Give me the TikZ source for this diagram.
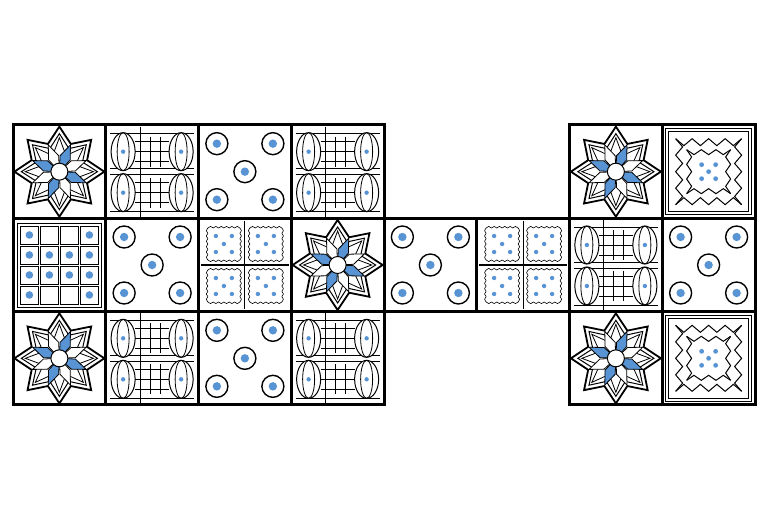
\documentclass[tikz,border=0pt]{standalone}
\usetikzlibrary{decorations.pathmorphing}
\definecolor{ublue}{RGB}{88,148,212}
\tikzset{
 cellbox/.style={line width=3pt},
 pics/rosette/.style={code={
  \draw[line width=1.8pt,fill=white] (90:45) \foreach \k in {1,...,15}{ -- ({90+22.5*\k}:{ifthenelse(mod(\k,2)==0,45,30)}) } -- cycle;
  \draw[line width=1pt] (90:38) \foreach \k in {1,...,15}{ -- ({90+22.5*\k}:{ifthenelse(mod(\k,2)==0,38,25)}) } -- cycle;
  \foreach \k in {0,...,7}{\draw[line width=0.8pt,fill=white] (0,0) -- ({90+45*\k-16}:20) -- ({90+45*\k}:34) -- ({90+45*\k+16}:20) -- cycle;}
  \foreach \k in {0,...,7}{\pgfmathsetmacro\fc{ifthenelse(mod(\k,2)==0,1,0)}
   \ifdim\fc pt>0.5pt \def\pc{ublue}\else\def\pc{white}\fi
   \draw[line width=0.8pt,fill=\pc] (0,0) -- ({112.5+45*\k-20}:16) -- ({112.5+45*\k}:29) -- ({112.5+45*\k+20}:16) -- cycle;}
  \draw[line width=1pt,fill=white] (0,0) circle (8.5);
 }},
 pics/eyes/.style={code={
  \draw[line width=0.9pt] (-42,-38) -- (42,-38) (-42,-3) -- (42,-3) (-42,3) -- (42,3) (-42,40) -- (42,40) (-12,-45) -- (-12,45);
  \foreach \dy in {-20,21}{
   \foreach \dx in {-29,29}{
    \draw[line width=1pt,fill=white] (\dx,\dy) ellipse (12 and 19);
    \draw[line width=0.8pt] (\dx,\dy) ellipse (6 and 19);
    \fill[ublue] (\dx,\dy) circle (2.2);}
   \draw[line width=0.8pt] (-17,\dy-10) -- (17,\dy-10) (-17,\dy) -- (17,\dy) (-17,\dy+10) -- (17,\dy+10)
     (-2,\dy-15) -- (-2,\dy+15) (8,\dy-15) -- (8,\dy+15);}
 }},
 pics/five/.style={code={
  \foreach \p in {(-28,-28),(28,-28),(0,0),(-28,28),(28,28)}{
   \draw[line width=1.4pt] \p circle (11); \fill[ublue] \p circle (4.2);}
 }},
 pics/four/.style={code={
  \draw[line width=1.1pt] (-44,0) -- (44,0) (0,-44) -- (0,44);
  \foreach \cx/\cy in {-21/-21,21/-21,-21/21,21/21}{
   \foreach \s in {0,90,180,270}{
    \begin{scope}[shift={(\cx,\cy)},rotate=\s]
    \draw[line width=0.6pt,line join=round] (-16,-16) \foreach \k in {1,...,12}{ -- ({-16+32*\k/12},{-16-ifthenelse(mod(\k,2)==1,1.6,0)}) };
    \end{scope}}
   \foreach \ddx/\ddy in {-8/-8,8/-8,0/0,-8/8,8/8}{\fill[ublue] (\cx+\ddx,\cy+\ddy) circle (2.2);}}
 }},
 pics/grid/.style={code={
  \draw[line width=0.9pt] (-42,-42) rectangle (42,42);
  \foreach \i in {-30,-10,10,30}{\foreach \j in {-30,-10,10,30}{\draw[line width=0.9pt] (\i-9,\j-9) rectangle (\i+9,\j+9);}}
  \foreach \p in {(-30,-30),(30,-30),(-30,-10),(-10,-10),(10,-10),(30,-10),(-30,10),(-10,10),(10,10),(30,10),(-30,30),(30,30)}{\fill[ublue] \p circle (3.8);}
 }},
 pics/zig/.style={code={
  \draw[line width=0.9pt] (-43,-43) rectangle (43,43) (-40,-40) rectangle (40,40);
  \foreach \s in {0,90,180,270}{
   \begin{scope}[rotate=\s]
   \draw[line width=1pt,line join=miter] (-33,-33) \foreach \k in {1,...,8}{ -- ({-33+66*\k/8},{-33+ifthenelse(mod(\k,2)==1,7,0)}) };
   \draw[line width=1pt,line join=miter] (-22,-22) \foreach \k in {1,...,6}{ -- ({-22+44*\k/6},{-22+ifthenelse(mod(\k,2)==1,5,0)}) };
   \end{scope}}
  \foreach \ddx/\ddy in {-7/-7,7/-7,0/0,-7/7,7/7}{\fill[ublue] (\ddx,\ddy) circle (2.4);}
 }}
}
\begin{document}
\begin{tikzpicture}[x=1pt,y=-1pt]
\useasboundingbox[fill=white] (0,0) rectangle (768,532);
\def\cw{92.75}\def\ch{93.33}
\foreach \c/\r/\t in {0/0/rosette,1/0/eyes,2/0/five,3/0/eyes,6/0/rosette,7/0/zig,
  0/1/grid,1/1/five,2/1/four,3/1/rosette,4/1/five,5/1/four,6/1/eyes,7/1/five,
  0/2/rosette,1/2/eyes,2/2/five,3/2/eyes,6/2/rosette,7/2/zig}{
  \pgfmathsetmacro\xa{13+\cw*\c}\pgfmathsetmacro\ya{125+\ch*\r}
  \node[inner sep=0,minimum size=0] (c\c\r) at ({\xa+\cw/2},{\ya+\ch/2}) {};
  \pic at (c\c\r) {\t};
  \draw[cellbox] (\xa,\ya) rectangle ({\xa+\cw},{\ya+\ch});
}
\end{tikzpicture}
\end{document}
